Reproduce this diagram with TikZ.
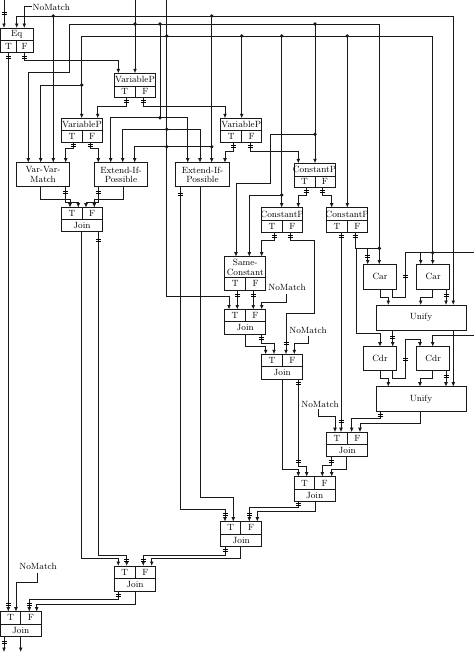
\documentclass[tikz,border=0pt]{standalone}
\usetikzlibrary{arrows.meta,calc,fit}
\tikzset{
 w/.style={line width=0.8pt, draw=black!90},
 a/.style={w, -{Latex[length=4.5pt,width=3.8pt]}},
 ab/.style={w, {Latex[length=4.5pt,width=3.8pt]}-{Latex[length=4.5pt,width=3.8pt]}},
 bx/.style={draw=black!90, line width=0.8pt, inner sep=0pt},
 lbl/.style={inner sep=0pt, font=\fontsize{9}{9.6}\selectfont, align=center},
}
\newcommand\dotat[1]{\fill[black!90] (#1) circle (1.9pt);}
\newcommand\tk[1]{\draw[line width=0.6pt] ($(#1)+(-2.5,-1)$) -- ++(5,0) ($(#1)+(-2.5,1)$) -- ++(5,0);}
% predicate box: name x1 y1 x2 ysplit y2 xdiv label
\newcommand\pbox[8]{%
  \node[bx, fit={(#2,#3) (#4,#6)}] (#1) {};
  \draw[w] (#2,#5) -- (#4,#5) (#7,#5) -- (#7,#6);
  \node[lbl] at ({(#2+#4)/2},{(#3+#5)/2}) {#8};
  \node[lbl] at ({(#2+#7)/2},{(#5+#6)/2}) {T};
  \node[lbl] at ({(#7+#4)/2},{(#5+#6)/2}) {F};
}
% join box: name x1 y1 x2 ysplit y2 xdiv
\newcommand\jbox[7]{%
  \node[bx, fit={(#2,#3) (#4,#6)}] (#1) {};
  \draw[w] (#2,#5) -- (#4,#5) (#7,#3) -- (#7,#5);
  \node[lbl] at ({(#2+#7)/2},{(#3+#5)/2}) {T};
  \node[lbl] at ({(#7+#4)/2},{(#3+#5)/2}) {F};
  \node[lbl] at ({(#2+#4)/2},{(#5+#6)/2}) {Join};
}
% plain box: name x1 y1 x2 y2 label
\newcommand\plainbox[6]{%
  \node[bx, fit={(#2,#3) (#4,#5)}] (#1) {};
  \node[lbl] at ({(#2+#4)/2},{(#3+#5)/2}) {#6};
}
\begin{document}
\begin{tikzpicture}[x=1pt,y=-1pt]
\useasboundingbox (0,0) rectangle (474,653);
% ---------- boxes ----------
\pbox{eq}{0.5}{28}{33}{40}{52}{16.3}{Eq}
\pbox{vpa}{114.3}{73.3}{155.7}{86}{97.7}{135}{VariableP}
\pbox{vpb}{61.7}{118.3}{102.3}{130.7}{142.3}{82}{VariableP}
\pbox{vpc}{220.7}{118.3}{261.7}{130.7}{142.3}{241.7}{VariableP}
\pbox{cpa}{294}{163.3}{335}{176}{187.7}{315}{ConstantP}
\pbox{cpb}{261.7}{207.7}{302.7}{220.3}{232.3}{282.3}{ConstantP}
\pbox{cpc}{326.7}{207.7}{367.7}{220.3}{232.3}{347.3}{ConstantP}
\pbox{sc}{224.7}{256.7}{265.7}{277.7}{290}{245.7}{Same-\\Constant}
\plainbox{vvm}{16.7}{162.7}{69.3}{186.7}{Var-Var-\\Match}
\plainbox{ea}{94.3}{162.7}{147.7}{186.7}{Extend-If-\\Possible}
\plainbox{eb}{175.7}{162.7}{229.3}{186.7}{Extend-If-\\Possible}
\plainbox{cara}{363.3}{264.5}{396.7}{289.3}{Car}
\plainbox{carb}{416.7}{264.5}{449.7}{289.3}{Car}
\plainbox{una}{376}{305}{466}{330}{Unify}
\plainbox{cdra}{363.3}{346.7}{396.7}{370.7}{Cdr}
\plainbox{cdrb}{416.7}{346.7}{449.7}{370.7}{Cdr}
\plainbox{unb}{376}{386.7}{466}{411.7}{Unify}
\jbox{ja}{61.7}{207.7}{102.3}{219.5}{231.7}{82}
\jbox{jb}{224.7}{309.5}{265.7}{321.7}{334}{245}
\jbox{jc}{261.7}{354.3}{302.7}{366.7}{379.2}{282.3}
\jbox{jd}{326.7}{432.2}{367.7}{444.3}{456.7}{347}
\jbox{je}{294.3}{476.7}{335}{489.2}{501.7}{314.5}
\jbox{jf}{220.7}{521.7}{261.7}{534}{546.7}{240.7}
\jbox{jg}{114.3}{566}{155.7}{578.3}{591}{135}
\jbox{jh}{0.5}{611.7}{41}{624}{636.7}{20.7}
% ---------- inputs from the top ----------
\draw[a] (4,0) -- (4,28); \tk{4,13}
\draw[a] (135,0) -- (135,73.3); \dotat{135,24}
\draw[a] (166.7,0) -- (166.7,296.7) -- (229,296.7) -- (229,309.5);
\dotat{166.7,36} \dotat{166.7,129.3} \dotat{166.7,146.7}
% bus y=16
\draw[ab] (16.7,28) -- (16.7,16) -- (453.3,16) -- (453.3,305);
\dotat{53.3,16} \draw[a] (53.3,16) -- (53.3,162.7);
\dotat{211.7,16} \draw[a] (211.7,16) -- (211.7,162.7); \dotat{211.7,146.7}
% bus y=24
\draw[ab] (28.3,162.7) -- (28.3,72.7) -- (69.3,72.7) -- (69.3,24) -- (379.3,24) -- (379.3,264.5);
\dotat{160,24} \draw[w] (160,24) -- (160,117.7); \dotat{160,117.7}
\draw[ab] (110.7,162.7) -- (110.7,117.7) -- (187.7,117.7) -- (187.7,162.7);
\dotat{315,24} \draw[a] (315,24) -- (315,163.3);
\dotat{315,134.3} \draw[a] (315,134.3) -- (270,134.3) -- (270,183.3) -- (236,183.3) -- (236,256.7);
\dotat{379.3,248.3} \draw[a] (379.3,248.3) -- (356,248.3) -- (356,333.3) -- (380,333.3) -- (380,346.7);
% bus y=36
\draw[ab] (81.7,118.3) -- (81.7,36) -- (432.7,36) -- (432.7,264.5);
\dotat{81.7,85} \draw[a] (81.7,85) -- (40.7,85) -- (40.7,162.7);
\dotat{241.7,36} \draw[a] (241.7,36) -- (241.7,118.3);
\dotat{281.7,36} \draw[a] (281.7,36) -- (281.7,207.7);
\dotat{281.7,195} \draw[a] (281.7,195) -- (249.3,195) -- (249.3,256.7);
\dotat{347.3,36} \draw[a] (347.3,36) -- (347.3,207.7);
\dotat{432.7,252.7} \draw[w] (474,252.7) -- (420.7,252.7);
\draw[ab] (122.7,162.7) -- (122.7,129.3) -- (200,129.3) -- (200,162.7);
\draw[a] (211.7,146.7) -- (134.7,146.7) -- (134.7,162.7);
% ---------- Eq ----------
\draw[a] (24.3,6) -- (24.3,28); \draw[w] (24.3,6) -- (31.7,6);
\node[lbl, anchor=west] (nm0) at (32.5,7) {NoMatch};
\draw[a] (8.3,52) -- (8.3,611.7); \tk{8.3,57} \tk{8.3,604}
\draw[a] (24.3,52) -- (24.3,60.7) -- (118.3,60.7) -- (118.3,73.3); \tk{24.3,57}
% ---------- VariableP ----------
\draw[a] (126.7,97.7) -- (126.7,106) -- (97.7,106) -- (97.7,118.3); \tk{126.7,101.7}
\draw[a] (143.3,97.7) -- (143.3,106) -- (225,106) -- (225,118.3); \tk{143.3,101.7}
\draw[a] (73.3,142.3) -- (73.3,148.5) -- (65.7,148.5) -- (65.7,162.7); \tk{73.3,145.5}
\draw[a] (90,142.3) -- (90,148.5) -- (98.3,148.5) -- (98.3,162.7); \tk{90,145.5}
\draw[a] (233.3,142.3) -- (233.3,151.7) -- (225,151.7) -- (225,162.7); \tk{233.3,146.5}
\draw[a] (250,142.3) -- (250,151.7) -- (298.3,151.7) -- (298.3,163.3); \tk{250,146.5}
% ---------- Var-Var-Match / Extend ----------
\draw[a] (40.7,186.7) -- (40.7,199.3) -- (70,199.3) -- (70,207.7);
\draw[a] (65.7,186.7) -- (65.7,202.7) -- (78.3,202.7) -- (78.3,207.7); \tk{65.7,192.3}
\draw[a] (98.3,186.7) -- (98.3,202.7) -- (86,202.7) -- (86,207.7); \tk{98.3,192.3}
\draw[a] (123.3,186.7) -- (123.3,199.3) -- (94.3,199.3) -- (94.3,207.7);
\draw[a] (180,186.7) -- (180,509.3) -- (225,509.3) -- (225,521.7); \tk{180,194} \tk{225,514.5}
\draw[a] (200,186.7) -- (200,497.7) -- (233.3,497.7) -- (233.3,521.7);
% ---------- Join 1 ----------
\draw[a] (81.7,231.7) -- (81.7,558.3) -- (118.3,558.3) -- (118.3,566);
\draw[a] (98.3,231.7) -- (98.3,555) -- (126.7,555) -- (126.7,566); \tk{98.3,240} \tk{126.7,560.5}
% ---------- ConstantP ----------
\draw[a] (306,187.7) -- (306,195) -- (298.3,195) -- (298.3,207.7); \tk{306,191}
\draw[a] (322.7,187.7) -- (322.7,195) -- (331.7,195) -- (331.7,207.7); \tk{322.7,191}
\draw[a] (274,232.3) -- (274,240) -- (261.7,240) -- (261.7,256.7); \tk{274,236}
\draw[a] (290,232.3) -- (290,240) -- (314.5,240) -- (314.5,313.3) -- (286,313.3) -- (286,354.3); \tk{290,236} \tk{286,343}
\draw[a] (341,232.3) -- (341,432.2); \tk{341,236.5} \tk{341,421}
\draw[a] (355.5,232.3) -- (355.5,248.3) -- (367.7,248.3) -- (367.7,264.5); \tk{355.5,236.5} \tk{367.7,256}
% ---------- Same-Constant / Join 2 / Join 3 ----------
\draw[a] (237.3,290) -- (237.3,309.5); \tk{237.3,295}
\draw[a] (253.3,290) -- (253.3,309.5); \tk{253.3,295}
\node[lbl] (nm2) at (287,287.5) {NoMatch};
\draw[a] (286.7,293.5) -- (286.7,302.7) -- (261.7,302.7) -- (261.7,309.5);
\draw[a] (245,334) -- (245,346.7) -- (265.7,346.7) -- (265.7,354.3);
\draw[a] (261.3,334) -- (261.3,343.3) -- (274,343.3) -- (274,354.3); \tk{261.3,338.3}
\node[lbl] (nm3) at (308,330) {NoMatch};
\draw[a] (308,335.5) -- (308,343.7) -- (294.3,343.7) -- (294.3,354.3);
\draw[a] (282.3,379.2) -- (282.3,469.3) -- (298.3,469.3) -- (298.3,476.7);
\draw[a] (298.3,379.2) -- (298.3,466) -- (306.7,466) -- (306.7,476.7); \tk{298.3,383.5} \tk{298.3,461}
% ---------- Car / Unify / Cdr ----------
\draw[a] (380,289.3) -- (380,297) -- (388.3,297) -- (388.3,305);
\draw[a] (392.7,289.3) -- (392.7,297) -- (405.5,297) -- (405.5,252.7) -- (420.7,252.7) -- (420.7,264.5); \tk{405.5,276.7}
\draw[a] (432.7,289.3) -- (432.7,297) -- (420.7,297) -- (420.7,305);
\draw[a] (446,289.3) -- (446,305); \tk{446,295}
\draw[a] (392.7,330) -- (392.7,346.7); \tk{392.7,337}
\draw[a] (453.3,330) -- (453.3,386.7);
\draw[a] (474,335) -- (432.7,335) -- (432.7,346.7);
\draw[a] (380,370.7) -- (380,378.7) -- (388.3,378.7) -- (388.3,386.7);
\draw[a] (392.7,370.7) -- (392.7,378.7) -- (405.5,378.7) -- (405.5,339.3) -- (420,339.3) -- (420,346.7); \tk{405.5,359.3}
\draw[a] (432.7,370.7) -- (432.7,378.7) -- (420,378.7) -- (420,386.7);
\draw[a] (446,370.7) -- (446,386.7); \tk{446,376.5}
% ---------- Unify 2 / Join 4 ----------
\draw[a] (380,411.7) -- (380,418.3) -- (351.7,418.3) -- (351.7,432.2); \tk{380,415}
\draw[a] (420,411.7) -- (420,423.5) -- (360,423.5) -- (360,432.2);
\node[lbl] (nm4) at (320,404) {NoMatch};
\draw[a] (318.3,409) -- (318.3,416.7) -- (335,416.7) -- (335,432.2);
\draw[a] (331,456.7) -- (331,465.5) -- (322.3,465.5) -- (322.3,476.7); \tk{331,461}
\draw[a] (346.7,456.7) -- (346.7,469.3) -- (331.7,469.3) -- (331.7,476.7);
% ---------- Join 5 / Join 6 / Join 7 ----------
\draw[a] (298.3,501.7) -- (298.3,507.3) -- (249.3,507.3) -- (249.3,521.7); \tk{298.3,504.5} \tk{249.3,514.5}
\draw[a] (315,501.7) -- (315,511.7) -- (257.3,511.7) -- (257.3,521.7);
\draw[a] (225,546.7) -- (225,555) -- (143.3,555) -- (143.3,566); \tk{225,550.5} \tk{143.3,560.5}
\draw[a] (240.7,546.7) -- (240.7,558.3) -- (151.7,558.3) -- (151.7,566);
\draw[a] (118.3,591) -- (118.3,599.3) -- (29.3,599.3) -- (29.3,611.7); \tk{118.3,595} \tk{29.3,604}
\draw[a] (135,591) -- (135,604) -- (36.7,604) -- (36.7,611.7);
% ---------- Join 8 ----------
\node[lbl] (nm8) at (38,566.5) {NoMatch};
\draw[a] (37.7,572.5) -- (37.7,582.7) -- (16,582.7) -- (16,611.7);
\draw[a] (4,636.7) -- (4,652); \tk{4,642}
\draw[a] (20.7,636.7) -- (20.7,652);
\end{tikzpicture}
\end{document}
